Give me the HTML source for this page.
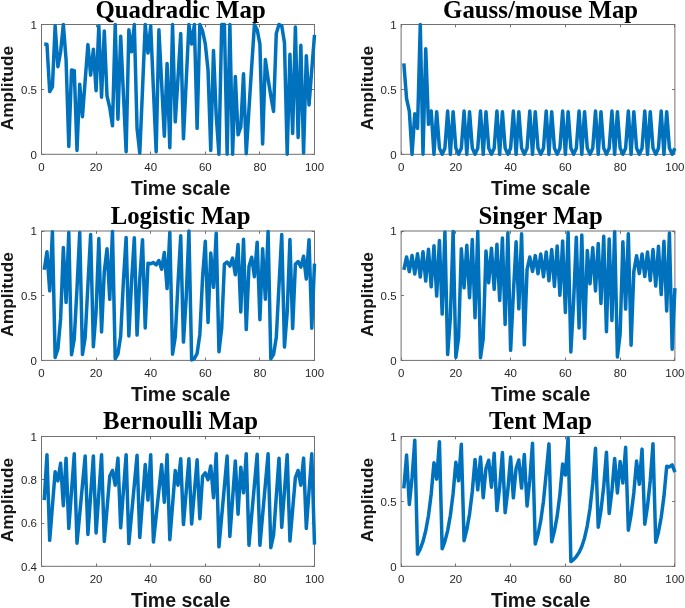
<!DOCTYPE html>
<html><head><meta charset="utf-8"><title>Chaotic Maps</title>
<style>
html,body{margin:0;padding:0;background:#fff;}
body{width:685px;height:608px;overflow:hidden;}
svg{display:block;}
.tl{font-family:"Liberation Sans",Arial,sans-serif;font-size:11.5px;fill:#262626;}
.ti{font-family:"Liberation Serif","Times New Roman",serif;font-weight:bold;font-size:24.8px;fill:#000;}
.xl{font-family:"Liberation Sans",Arial,sans-serif;font-weight:bold;font-size:19.5px;fill:#161616;}
.yl{font-family:"Liberation Sans",Arial,sans-serif;font-weight:bold;font-size:17.3px;fill:#161616;}
</style></head><body>
<svg width="685" height="608" viewBox="0 0 685 608">
<rect width="685" height="608" fill="#fff"/>
<g><rect x="41.5" y="24.5" width="273.0" height="129.8" fill="none" stroke="#707070" stroke-width="1"/><path d="M41.50 154.3v-2.8M41.50 24.5v2.8M96.50 154.3v-2.8M96.50 24.5v2.8M150.50 154.3v-2.8M150.50 24.5v2.8M205.50 154.3v-2.8M205.50 24.5v2.8M259.50 154.3v-2.8M259.50 24.5v2.8M314.50 154.3v-2.8M314.50 24.5v2.8M41.5 154.50h2.8M314.5 154.50h-2.8M41.5 89.50h2.8M314.5 89.50h-2.8M41.5 24.50h2.8M314.5 24.50h-2.8" stroke="#707070" stroke-width="1" fill="none"/><polyline points="44.23,44.23 46.96,44.23 49.69,91.61 52.42,86.80 55.15,25.80 57.88,66.69 60.61,51.76 63.34,24.50 66.07,59.55 68.80,146.51 71.53,69.93 74.26,70.58 76.99,150.41 79.72,84.21 82.45,116.66 85.18,80.31 87.91,44.62 90.64,75.12 93.37,49.16 96.10,90.70 98.83,25.80 101.56,97.19 104.29,30.99 107.02,95.89 109.75,107.57 112.48,125.74 115.21,24.50 117.94,119.25 120.67,36.18 123.40,93.29 126.13,151.70 128.86,29.69 131.59,51.76 134.32,24.50 137.05,128.34 139.78,153.00 142.51,89.40 145.24,24.50 147.97,53.06 150.70,25.80 153.43,89.40 156.16,151.70 158.89,29.69 161.62,82.91 164.35,136.13 167.08,63.44 169.81,147.81 172.54,24.50 175.27,121.85 178.00,77.72 180.73,33.59 183.46,138.72 186.19,81.61 188.92,24.50 191.65,43.97 194.38,24.50 197.11,128.34 199.84,24.50 202.57,30.99 205.30,43.97 208.03,69.93 210.76,150.41 213.49,50.46 216.22,115.36 218.95,154.30 221.68,24.50 224.41,24.50 227.14,154.30 229.87,24.50 232.60,154.30 235.33,76.42 238.06,134.83 240.79,127.04 243.52,73.82 246.25,153.65 248.98,108.87 251.71,66.04 254.44,24.50 257.17,29.69 259.90,43.97 262.63,143.92 265.36,59.55 268.09,79.02 270.82,95.89 273.55,111.47 276.28,33.59 279.01,24.50 281.74,25.80 284.47,42.67 287.20,154.30 289.93,54.35 292.66,133.53 295.39,27.10 298.12,137.43 300.85,45.27 303.58,153.00 306.31,55.65 309.04,104.98 311.77,69.93 314.50,34.88" fill="none" stroke="#0072BD" stroke-width="3.5" stroke-linejoin="round" stroke-linecap="butt"/><text x="41.50" y="170.6" text-anchor="middle" class="tl">0</text><text x="96.10" y="170.6" text-anchor="middle" class="tl">20</text><text x="150.70" y="170.6" text-anchor="middle" class="tl">40</text><text x="205.30" y="170.6" text-anchor="middle" class="tl">60</text><text x="259.90" y="170.6" text-anchor="middle" class="tl">80</text><text x="314.50" y="170.6" text-anchor="middle" class="tl">100</text><text x="37.00" y="158.6" text-anchor="end" class="tl">0</text><text x="37.00" y="93.7" text-anchor="end" class="tl">0.5</text><text x="37.00" y="28.8" text-anchor="end" class="tl">1</text><text x="180.60" y="17.6" text-anchor="middle" class="ti">Quadradic Map</text><text x="180.60" y="194.9" text-anchor="middle" class="xl">Time scale</text><text transform="translate(12.9,88.1) rotate(-90)" text-anchor="middle" class="yl">Amplitude</text></g>
<g><rect x="401.1" y="24.5" width="273.8" height="129.8" fill="none" stroke="#707070" stroke-width="1"/><path d="M401.50 154.3v-2.8M401.50 24.5v2.8M455.50 154.3v-2.8M455.50 24.5v2.8M510.50 154.3v-2.8M510.50 24.5v2.8M565.50 154.3v-2.8M565.50 24.5v2.8M620.50 154.3v-2.8M620.50 24.5v2.8M674.50 154.3v-2.8M674.50 24.5v2.8M401.1 154.50h2.8M674.9 154.50h-2.8M401.1 89.50h2.8M674.9 89.50h-2.8M401.1 24.50h2.8M674.9 24.50h-2.8" stroke="#707070" stroke-width="1" fill="none"/><polyline points="403.84,63.44 406.58,98.67 409.31,111.03 412.05,154.30 414.79,113.74 417.53,128.34 420.27,24.50 423.00,154.30 425.74,48.84 428.48,124.35 431.22,111.03 433.96,154.30 436.69,111.71 439.43,148.12 442.17,154.30 444.91,148.22 447.65,111.03 450.38,154.30 453.12,111.71 455.86,148.12 458.60,154.30 461.34,148.22 464.07,111.03 466.81,154.30 469.55,111.71 472.29,148.12 475.03,154.30 477.76,148.22 480.50,111.03 483.24,154.30 485.98,111.71 488.72,148.12 491.45,154.30 494.19,148.22 496.93,111.03 499.67,154.30 502.41,111.71 505.14,148.12 507.88,154.30 510.62,148.22 513.36,111.03 516.10,154.30 518.83,111.71 521.57,148.12 524.31,154.30 527.05,148.22 529.79,111.03 532.52,154.30 535.26,111.71 538.00,148.12 540.74,154.30 543.48,148.22 546.21,111.03 548.95,154.30 551.69,111.71 554.43,148.12 557.17,154.30 559.90,148.22 562.64,111.03 565.38,154.30 568.12,111.71 570.86,148.12 573.59,154.30 576.33,148.22 579.07,111.03 581.81,154.30 584.55,111.71 587.28,148.12 590.02,154.30 592.76,148.22 595.50,111.03 598.24,154.30 600.97,111.71 603.71,148.12 606.45,154.30 609.19,148.22 611.93,111.03 614.66,154.30 617.40,111.71 620.14,148.12 622.88,154.30 625.62,148.22 628.35,111.03 631.09,154.30 633.83,111.71 636.57,148.12 639.31,154.30 642.04,148.22 644.78,111.03 647.52,154.30 650.26,111.71 653.00,148.12 655.73,154.30 658.47,148.22 661.21,111.03 663.95,154.30 666.69,111.71 669.42,148.12 672.16,154.30 674.90,148.22" fill="none" stroke="#0072BD" stroke-width="3.5" stroke-linejoin="round" stroke-linecap="butt"/><text x="401.10" y="170.6" text-anchor="middle" class="tl">0</text><text x="455.86" y="170.6" text-anchor="middle" class="tl">20</text><text x="510.62" y="170.6" text-anchor="middle" class="tl">40</text><text x="565.38" y="170.6" text-anchor="middle" class="tl">60</text><text x="620.14" y="170.6" text-anchor="middle" class="tl">80</text><text x="674.90" y="170.6" text-anchor="middle" class="tl">100</text><text x="396.60" y="158.6" text-anchor="end" class="tl">0</text><text x="396.60" y="93.7" text-anchor="end" class="tl">0.5</text><text x="396.60" y="28.8" text-anchor="end" class="tl">1</text><text x="540.60" y="17.6" text-anchor="middle" class="ti">Gauss/mouse Map</text><text x="540.60" y="194.9" text-anchor="middle" class="xl">Time scale</text><text transform="translate(372.5,88.1) rotate(-90)" text-anchor="middle" class="yl">Amplitude</text></g>
<g><rect x="41.5" y="231.0" width="273.0" height="129.4" fill="none" stroke="#707070" stroke-width="1"/><path d="M41.50 360.4v-2.8M41.50 231.0v2.8M96.50 360.4v-2.8M96.50 231.0v2.8M150.50 360.4v-2.8M150.50 231.0v2.8M205.50 360.4v-2.8M205.50 231.0v2.8M259.50 360.4v-2.8M259.50 231.0v2.8M314.50 360.4v-2.8M314.50 231.0v2.8M41.5 360.50h2.8M314.5 360.50h-2.8M41.5 295.50h2.8M314.5 295.50h-2.8M41.5 231.50h2.8M314.5 231.50h-2.8" stroke="#707070" stroke-width="1" fill="none"/><polyline points="44.23,269.82 46.96,251.70 49.69,290.83 52.42,231.73 55.15,357.49 57.88,349.02 60.61,318.88 63.34,247.61 66.07,302.48 68.80,232.42 71.53,354.78 74.26,338.90 76.99,288.69 79.72,232.52 82.45,354.40 85.18,337.50 87.91,285.02 90.64,234.53 93.37,346.67 96.10,311.31 98.83,238.53 101.56,332.02 104.29,271.78 107.02,248.68 109.75,299.33 112.48,231.41 115.21,358.78 117.94,353.99 120.67,336.02 123.40,281.27 126.13,237.44 128.86,335.92 131.59,281.00 134.32,237.68 137.05,335.08 139.78,278.93 142.51,239.69 145.24,327.96 147.97,263.17 150.70,263.71 153.43,262.63 156.16,264.81 158.89,260.50 161.62,269.30 164.35,252.54 167.08,288.58 169.81,232.57 172.54,354.21 175.27,336.84 178.00,283.31 180.73,235.75 183.46,342.11 186.19,297.58 188.92,231.11 191.65,359.96 194.38,358.66 197.11,353.55 199.84,334.45 202.57,277.42 205.30,241.33 208.03,322.39 210.76,253.02 213.49,287.30 216.22,233.18 218.95,351.83 221.68,328.39 224.41,264.03 227.14,262.00 229.87,266.11 232.60,258.06 235.33,274.79 238.06,244.51 240.79,312.00 243.52,239.22 246.25,329.62 248.98,266.56 251.71,257.25 254.44,276.71 257.17,242.15 259.90,319.65 262.63,248.73 265.36,299.21 268.09,231.38 270.82,358.88 273.55,354.41 276.28,337.55 279.01,285.14 281.74,234.44 284.47,346.99 287.20,312.32 289.93,239.54 292.66,328.51 295.39,264.27 298.12,261.53 300.85,267.09 303.58,256.30 306.31,278.99 309.04,239.63 311.77,328.18 314.50,263.62" fill="none" stroke="#0072BD" stroke-width="3.5" stroke-linejoin="round" stroke-linecap="butt"/><text x="41.50" y="376.7" text-anchor="middle" class="tl">0</text><text x="96.10" y="376.7" text-anchor="middle" class="tl">20</text><text x="150.70" y="376.7" text-anchor="middle" class="tl">40</text><text x="205.30" y="376.7" text-anchor="middle" class="tl">60</text><text x="259.90" y="376.7" text-anchor="middle" class="tl">80</text><text x="314.50" y="376.7" text-anchor="middle" class="tl">100</text><text x="37.00" y="364.7" text-anchor="end" class="tl">0</text><text x="37.00" y="300.0" text-anchor="end" class="tl">0.5</text><text x="37.00" y="235.3" text-anchor="end" class="tl">1</text><text x="180.60" y="223.6" text-anchor="middle" class="ti">Logistic Map</text><text x="180.60" y="401.0" text-anchor="middle" class="xl">Time scale</text><text transform="translate(12.9,294.4) rotate(-90)" text-anchor="middle" class="yl">Amplitude</text></g>
<g><rect x="401.1" y="231.0" width="273.8" height="129.4" fill="none" stroke="#707070" stroke-width="1"/><path d="M401.50 360.4v-2.8M401.50 231.0v2.8M455.50 360.4v-2.8M455.50 231.0v2.8M510.50 360.4v-2.8M510.50 231.0v2.8M565.50 360.4v-2.8M565.50 231.0v2.8M620.50 360.4v-2.8M620.50 231.0v2.8M674.50 360.4v-2.8M674.50 231.0v2.8M401.1 360.50h2.8M674.9 360.50h-2.8M401.1 295.50h2.8M674.9 295.50h-2.8M401.1 231.50h2.8M674.9 231.50h-2.8" stroke="#707070" stroke-width="1" fill="none"/><polyline points="403.84,269.82 406.58,256.93 409.31,271.61 412.05,255.52 414.79,273.93 417.53,253.82 420.27,276.97 423.00,251.77 425.74,281.07 428.48,249.22 431.22,286.86 433.96,245.79 436.69,296.04 439.43,240.46 442.17,314.09 444.91,232.05 447.65,354.54 450.38,317.39 453.12,231.55 455.86,357.50 458.60,337.59 461.34,248.83 464.07,287.80 466.81,245.24 469.55,297.67 472.29,239.53 475.03,317.79 477.76,231.52 480.50,357.63 483.24,338.55 485.98,251.00 488.72,282.73 491.45,248.22 494.19,289.35 496.93,244.34 499.67,300.46 502.41,237.96 505.14,324.45 507.88,232.77 510.62,350.37 513.36,293.63 516.10,241.86 518.83,308.87 521.57,233.77 524.31,344.85 527.05,269.72 529.79,257.01 532.52,271.48 535.26,255.61 538.00,273.76 540.74,253.94 543.48,276.75 546.21,251.91 548.95,280.76 551.69,249.40 554.43,286.41 557.17,246.05 559.90,295.28 562.64,240.90 565.38,312.40 568.12,232.50 570.86,351.93 573.59,301.93 576.33,237.16 579.07,328.04 581.81,235.04 584.55,338.36 587.28,250.55 590.02,283.74 592.76,247.62 595.50,290.92 598.24,243.43 600.97,303.42 603.71,236.36 606.45,331.76 609.19,238.89 611.93,320.44 614.66,231.63 617.40,356.98 620.14,333.81 622.88,241.80 625.62,309.07 628.35,233.69 631.09,345.30 633.83,271.36 636.57,255.70 639.31,273.61 642.04,254.05 644.78,276.55 647.52,252.05 650.26,280.49 653.00,249.57 655.73,286.02 658.47,246.28 661.21,294.60 663.95,241.29 666.69,310.94 669.42,232.98 672.16,349.24 674.90,288.08" fill="none" stroke="#0072BD" stroke-width="3.5" stroke-linejoin="round" stroke-linecap="butt"/><text x="401.10" y="376.7" text-anchor="middle" class="tl">0</text><text x="455.86" y="376.7" text-anchor="middle" class="tl">20</text><text x="510.62" y="376.7" text-anchor="middle" class="tl">40</text><text x="565.38" y="376.7" text-anchor="middle" class="tl">60</text><text x="620.14" y="376.7" text-anchor="middle" class="tl">80</text><text x="674.90" y="376.7" text-anchor="middle" class="tl">100</text><text x="396.60" y="364.7" text-anchor="end" class="tl">0</text><text x="396.60" y="300.0" text-anchor="end" class="tl">0.5</text><text x="396.60" y="235.3" text-anchor="end" class="tl">1</text><text x="540.60" y="223.6" text-anchor="middle" class="ti">Singer Map</text><text x="540.60" y="401.0" text-anchor="middle" class="xl">Time scale</text><text transform="translate(372.5,294.4) rotate(-90)" text-anchor="middle" class="yl">Amplitude</text></g>
<g><rect x="41.5" y="436.5" width="273.0" height="129.8" fill="none" stroke="#707070" stroke-width="1"/><path d="M41.50 566.3v-2.8M41.50 436.5v2.8M96.50 566.3v-2.8M96.50 436.5v2.8M150.50 566.3v-2.8M150.50 436.5v2.8M205.50 566.3v-2.8M205.50 436.5v2.8M259.50 566.3v-2.8M259.50 436.5v2.8M314.50 566.3v-2.8M314.50 436.5v2.8M41.5 566.50h2.8M314.5 566.50h-2.8M41.5 523.50h2.8M314.5 523.50h-2.8M41.5 479.50h2.8M314.5 479.50h-2.8M41.5 436.50h2.8M314.5 436.50h-2.8" stroke="#707070" stroke-width="1" fill="none"/><polyline points="44.23,500.10 46.96,454.67 49.69,540.34 52.42,506.05 55.15,471.76 57.88,480.85 60.61,463.33 63.34,505.73 66.07,458.13 68.80,528.44 71.53,491.12 74.26,453.81 76.99,543.15 79.72,514.09 82.45,485.03 85.18,455.97 87.91,534.50 90.64,495.23 93.37,455.97 96.10,532.98 98.83,493.83 101.56,454.67 104.29,541.42 107.02,508.86 109.75,476.31 112.48,470.46 115.21,485.17 117.94,458.13 120.67,527.79 123.40,491.23 126.13,454.67 128.86,543.58 131.59,514.16 134.32,484.74 137.05,455.32 139.78,537.53 142.51,501.08 145.24,464.62 147.97,500.10 150.70,454.67 153.43,542.07 156.16,516.25 158.89,490.44 161.62,464.62 164.35,502.27 167.08,454.67 169.81,539.69 172.54,505.08 175.27,470.46 178.00,485.17 180.73,458.78 183.46,524.55 186.19,491.66 188.92,458.78 191.65,523.90 194.38,491.88 197.11,459.86 199.84,518.71 202.57,476.31 205.30,472.84 208.03,479.77 210.76,465.92 213.49,497.72 216.22,453.81 218.95,546.83 221.68,516.54 224.41,486.26 227.14,455.97 229.87,536.45 232.60,498.70 235.33,460.95 238.06,514.16 240.79,467.22 243.52,492.75 246.25,453.81 248.98,545.32 251.71,514.96 254.44,484.60 257.17,454.24 259.90,545.32 262.63,514.81 265.36,484.31 268.09,453.81 270.82,547.70 273.55,535.15 276.28,496.64 279.01,458.13 281.74,527.36 284.47,491.02 287.20,454.67 289.93,540.99 292.66,509.30 295.39,477.60 298.12,470.46 300.85,485.17 303.58,458.13 306.31,528.44 309.04,491.12 311.77,453.81 314.50,544.67" fill="none" stroke="#0072BD" stroke-width="3.5" stroke-linejoin="round" stroke-linecap="butt"/><text x="41.50" y="582.6" text-anchor="middle" class="tl">0</text><text x="96.10" y="582.6" text-anchor="middle" class="tl">20</text><text x="150.70" y="582.6" text-anchor="middle" class="tl">40</text><text x="205.30" y="582.6" text-anchor="middle" class="tl">60</text><text x="259.90" y="582.6" text-anchor="middle" class="tl">80</text><text x="314.50" y="582.6" text-anchor="middle" class="tl">100</text><text x="37.00" y="570.6" text-anchor="end" class="tl">0.4</text><text x="37.00" y="527.3" text-anchor="end" class="tl">0.6</text><text x="37.00" y="484.1" text-anchor="end" class="tl">0.8</text><text x="37.00" y="440.8" text-anchor="end" class="tl">1</text><text x="180.60" y="429.2" text-anchor="middle" class="ti">Bernoulli Map</text><text x="180.60" y="606.9" text-anchor="middle" class="xl">Time scale</text><text transform="translate(12.9,500.1) rotate(-90)" text-anchor="middle" class="yl">Amplitude</text></g>
<g><rect x="401.1" y="436.5" width="273.8" height="129.8" fill="none" stroke="#707070" stroke-width="1"/><path d="M401.50 566.3v-2.8M401.50 436.5v2.8M455.50 566.3v-2.8M455.50 436.5v2.8M510.50 566.3v-2.8M510.50 436.5v2.8M565.50 566.3v-2.8M565.50 436.5v2.8M620.50 566.3v-2.8M620.50 436.5v2.8M674.50 566.3v-2.8M674.50 436.5v2.8M401.1 566.50h2.8M674.9 566.50h-2.8M401.1 501.50h2.8M674.9 501.50h-2.8M401.1 436.50h2.8M674.9 436.50h-2.8" stroke="#707070" stroke-width="1" fill="none"/><polyline points="403.84,488.42 406.58,455.04 409.31,504.49 412.05,478.00 414.79,440.16 417.53,554.11 420.27,548.88 423.00,541.41 425.74,530.75 428.48,515.51 431.22,493.75 433.96,462.66 436.69,479.12 439.43,441.75 442.17,548.79 444.91,541.29 447.65,530.57 450.38,515.26 453.12,493.39 455.86,462.14 458.60,480.83 461.34,444.20 464.07,540.64 466.81,529.65 469.55,513.94 472.29,491.50 475.03,459.44 477.76,489.84 480.50,457.08 483.24,497.71 485.98,468.32 488.72,460.25 491.45,487.14 494.19,453.22 496.93,510.57 499.67,486.68 502.41,452.56 505.14,512.77 507.88,489.83 510.62,457.06 513.36,497.77 516.10,468.40 518.83,459.96 521.57,488.11 524.31,454.60 527.05,505.98 529.79,480.13 532.52,443.20 535.26,543.95 538.00,534.38 540.74,520.69 543.48,501.15 546.21,473.23 548.95,443.88 551.69,541.71 554.43,531.17 557.17,516.12 559.90,494.61 562.64,463.89 565.38,475.01 568.12,437.93 570.86,561.54 573.59,559.49 576.33,556.58 579.07,552.41 581.81,546.46 584.55,537.95 587.28,525.80 590.02,508.44 592.76,483.65 595.50,448.23 598.24,527.21 600.97,510.46 603.71,486.53 606.45,452.34 609.19,513.48 611.93,490.85 614.66,458.51 617.40,492.93 620.14,461.48 622.88,483.02 625.62,447.32 628.35,530.22 631.09,514.76 633.83,492.67 636.57,461.11 639.31,484.27 642.04,449.12 644.78,524.25 647.52,506.23 650.26,480.48 653.00,443.70 655.73,542.29 658.47,532.00 661.21,517.30 663.95,496.30 666.69,466.30 669.42,466.97 672.16,464.74 674.90,472.18" fill="none" stroke="#0072BD" stroke-width="3.5" stroke-linejoin="round" stroke-linecap="butt"/><text x="401.10" y="582.6" text-anchor="middle" class="tl">0</text><text x="455.86" y="582.6" text-anchor="middle" class="tl">20</text><text x="510.62" y="582.6" text-anchor="middle" class="tl">40</text><text x="565.38" y="582.6" text-anchor="middle" class="tl">60</text><text x="620.14" y="582.6" text-anchor="middle" class="tl">80</text><text x="674.90" y="582.6" text-anchor="middle" class="tl">100</text><text x="396.60" y="570.6" text-anchor="end" class="tl">0</text><text x="396.60" y="505.7" text-anchor="end" class="tl">0.5</text><text x="396.60" y="440.8" text-anchor="end" class="tl">1</text><text x="540.60" y="429.2" text-anchor="middle" class="ti">Tent Map</text><text x="540.60" y="606.9" text-anchor="middle" class="xl">Time scale</text><text transform="translate(372.5,500.1) rotate(-90)" text-anchor="middle" class="yl">Amplitude</text></g>
</svg>
</body></html>
